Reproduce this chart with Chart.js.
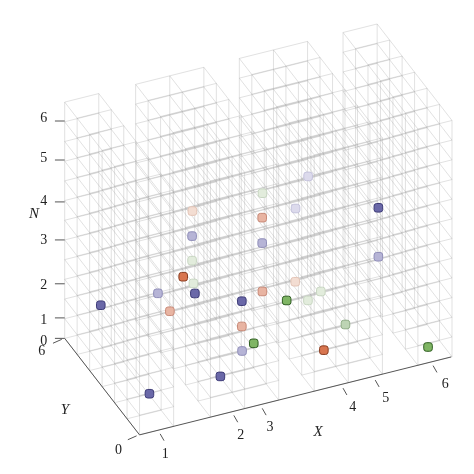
<!DOCTYPE html>
<html>
<head>
<meta charset="utf-8">
<script src="https://cdn.jsdelivr.net/npm/chart.js@4/dist/chart.umd.min.js"></script>
<style>
  html, body { margin: 0; padding: 0; background: #fff; }
</style>
</head>
<body>
<canvas id="c" width="474" height="474"></canvas>
<script>
// point data: u = position along X (axis units), y = Y, n = N
const ptU = [0.09, 0.41, 1.48, 1.47, 1.60, 2.13, 1.70, 2.34, 2.22, 2.22, 1.71, 2.56, 2.56, 2.55, 2.45,
             3.51, 3.39, 3.39, 3.28, 3.61, 4.46, 4.23, 4.11, 4.00, 4.35, 3.72, 4.23, 5.29, 5.29, 5.40]
const ptY = [3.5, 1, 5, 4, 3.5, 5, 3, 6, 5.5, 5.5, 1, 3, 3, 2, 2.5,
             5.5, 5, 5, 4.5, 4, 6, 6, 5.5, 4, 4.5, 1.5, 2, 4, 4, 0.5]
const ptN = [2.4, 0.95, 1.6, 1.55, 2.58, 1.63, 2.35, 2.93, 2.58, 2.02, 0.93, 1.88, 1.14, 1.12, 0.5,
             3.18, 2.82, 2.24, 1.17, 1.01, 3.07, 2.4, 0.42, 0.76, 0.57, 0.48, 1.0, 2.82, 1.62, 0.3]
const ptShade = ['b1', 'b1', 'b2', 'r2', 'r1', 'g3', 'b1', 'r3', 'b2', 'g3', 'b1', 'b1', 'r2', 'g1', 'b2',
                 'g3', 'r2', 'b2', 'r2', 'g1', 'b3', 'b3', 'r3', 'g3', 'g3', 'r1', 'g2', 'b1', 'b2', 'g1']

const shadeFill = {
    b1: '#6a68a8', b2: '#b6b4d6', b3: '#dcdaec',
    r1: '#d8754f', r2: '#e8b4a2', r3: '#f3ddd2',
    g1: '#7fb564', g2: '#bdd4b4', g3: '#e2ecdc'
}
const shadeLine = {
    b1: '#3e3c78', b2: '#8f8db8', b3: '#c4c2dc',
    r1: '#8a3e22', r2: '#c88a78', r3: '#e3c4b6',
    g1: '#2f5e22', g2: '#8fac86', g3: '#c8d6c2'
}

// slabs: start along X and number of cells along X
const slabStart = [0, 1.30, 3.2, 5.1]
const slabCells = [1, 2, 2, 1]

const nTicks = [0, 1, 2, 3, 4, 5, 6]
const nTickHeight = [0, 21, 56, 101, 140, 183, 223]   // px above base
const xTickLabels = ['1', '2', '3', '4', '5', '6']
const xTickAt = [0.36, 1.71, 2.23, 3.71, 4.30, 5.36]
const yTickLabels = ['0', '6']
const yTickAt = [0, 6]

// projection
const CELL_U = 0.625, LEVELS = 12, LEVEL_PX = 20.2
function hOf(n) {
    for (let i = 1; i < nTicks.length; i++) {
        if (n <= nTicks[i]) {
            const t = (n - nTicks[i - 1]) / (nTicks[i] - nTicks[i - 1])
            return nTickHeight[i - 1] + t * (nTickHeight[i] - nTickHeight[i - 1])
        }
    }
    return nTickHeight[nTickHeight.length - 1]
}
function P(u, y, hpx) {
    return { x: 137 + 56 * u - 12.8 * y, y: 440 - 14 * u - 16.5 * y - hpx }
}

// lattice segments
const grid = []
function seg(a, b) { grid.push(a, b, { x: null, y: null }) }
slabStart.forEach((s, i) => {
    const us = []
    for (let k = 0; k <= slabCells[i]; k++) us.push(s + k * CELL_U)
    const top = LEVELS * LEVEL_PX
    for (const u of us) for (let y = 0; y <= 6; y++) seg(P(u, y, 0), P(u, y, top))
    for (const u of us) for (let l = 0; l <= LEVELS; l++) seg(P(u, 0, l * LEVEL_PX), P(u, 6, l * LEVEL_PX))
    for (let y = 0; y <= 6; y++) for (let l = 0; l <= LEVELS; l++) seg(P(us[0], y, l * LEVEL_PX), P(us[us.length - 1], y, l * LEVEL_PX))
})

const axes = []
function aseg(a, b) { axes.push(a, b, { x: null, y: null }) }
aseg(P(0, 0, 0), P(5.71, 0, 0))
aseg(P(0, 0, 0), P(0, 6, 0))
xTickAt.forEach(u => { const p = P(u, 0, 0); aseg({ x: p.x + 1, y: p.y + 4 }, { x: p.x + 5, y: p.y + 11 }) })
yTickAt.forEach(y => { const p = P(0, y, 0); aseg({ x: p.x - 3, y: p.y + 1 }, { x: p.x - 12, y: p.y + 5 }) })
const nBase = P(0, 6, 0)
nTickHeight.forEach(h => aseg({ x: nBase.x, y: nBase.y - h }, { x: nBase.x - 10, y: nBase.y - h }))

const pts = ptU.map((u, i) => P(u, ptY[i], hOf(ptN[i])))

const labels = {
    id: 'labels',
    afterDraw(chart) {
        const ctx = chart.ctx
        ctx.save()
        ctx.fillStyle = '#222'
        ctx.font = '14px "Liberation Serif", "DejaVu Serif", serif'
        ctx.textAlign = 'right'; ctx.textBaseline = 'middle'
        nTicks.forEach((n, i) => ctx.fillText(String(n), nBase.x - 13, nBase.y - nTickHeight[i]))
        yTickAt.forEach((y, i) => { const p = P(0, y, 0); ctx.fillText(yTickLabels[i], p.x - 15, p.y + 10) })
        ctx.textAlign = 'center'; ctx.textBaseline = 'top'
        xTickAt.forEach((u, i) => { const p = P(u, 0, 0); ctx.fillText(xTickLabels[i], p.x + 8, p.y + 12) })
        ctx.font = 'italic 15px "Liberation Serif", "DejaVu Serif", serif'
        ctx.textBaseline = 'middle'
        ctx.fillText('N', 34, 214)
        ctx.fillText('Y', 65, 410)
        ctx.fillText('X', 318, 432)
        ctx.restore()
    }
}

new Chart(document.getElementById('c'), {
    type: 'scatter',
    data: {
        datasets: [
            {
                data: pts,
                pointStyle: 'rectRounded',
                pointRadius: 5,
                pointBackgroundColor: ptShade.map(s => shadeFill[s]),
                pointBorderColor: ptShade.map(s => shadeLine[s]),
                pointBorderWidth: 1,
                order: 0
            },
            {
                data: grid,
                showLine: true,
                spanGaps: false,
                pointRadius: 0,
                borderColor: 'rgba(160,160,160,0.45)',
                borderWidth: 0.7,
                order: 2
            },
            {
                data: axes,
                showLine: true,
                spanGaps: false,
                pointRadius: 0,
                borderColor: '#555',
                borderWidth: 1,
                order: 1
            }
        ]
    },
    options: {
        responsive: false,
        animation: false,
        layout: { padding: 0 },
        plugins: { legend: { display: false }, tooltip: { enabled: false } },
        scales: {
            x: { type: 'linear', min: 0, max: 474, display: false },
            y: { type: 'linear', min: 0, max: 474, reverse: true, display: false }
        }
    },
    plugins: [labels]
})
</script>
</body>
</html>
